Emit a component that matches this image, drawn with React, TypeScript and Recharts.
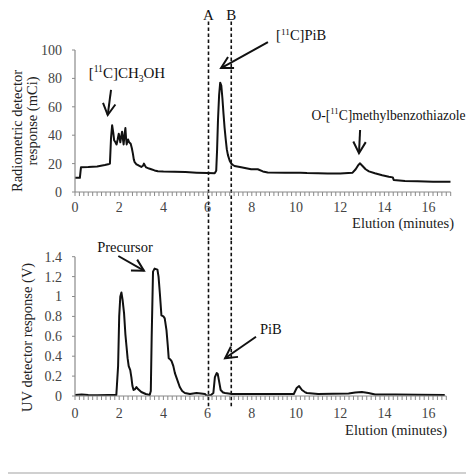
import React from 'react';
import { LineChart, Line, XAxis, YAxis, ReferenceLine, ReferenceDot } from 'recharts';

const FONT = "'Liberation Serif', 'Times New Roman', Times, serif";

// Radiometric detector trace (minutes, mCi)
const radioTime = [
  0, 0.22, 0.27, 0.6, 1.0, 1.35, 1.5, 1.58, 1.63, 1.68, 1.73, 1.77, 1.83, 1.88, 1.93, 1.98,
  2.02, 2.05, 2.09, 2.13, 2.17, 2.2, 2.24, 2.28, 2.31, 2.34, 2.37, 2.4, 2.45, 2.52, 2.57, 2.62,
  2.66, 2.7, 2.78, 2.85, 3.0, 3.08, 3.12, 3.17, 3.22, 3.35, 3.45, 3.6, 3.75, 4.0, 4.5, 5.0,
  5.5, 6.0, 6.32, 6.39, 6.43, 6.47, 6.52, 6.57, 6.62, 6.67, 6.72, 6.77, 6.82, 6.87, 6.92, 7.0,
  7.07, 7.15, 7.22, 7.52, 7.8, 7.97, 8.27, 8.5, 8.72, 9.5, 10.2, 10.5, 11.0, 11.43, 12.0, 12.55,
  12.7, 12.8, 12.89, 13.0, 13.15, 13.3, 13.57, 13.9, 14.2, 14.38, 14.42, 14.93, 15.5, 16.2, 17.0,
];
const radioSignal = [
  10, 10, 17.4, 17.6, 18, 19, 19.5, 20, 38, 47, 42, 36.5, 35, 33.5, 37, 41,
  38, 35, 39, 42.5, 37, 33.5, 40, 45, 38, 33.5, 36, 37, 35, 34, 31, 27,
  23, 21, 19.5, 19, 17.7, 18.5, 20, 18.5, 17.3, 16.5, 16, 15.2, 14.6, 14.4, 14.2, 14,
  13.6, 13.3, 13.2, 15, 30, 50.7, 68, 77, 75, 66, 55, 45, 37, 30, 26, 22,
  20, 19, 18.3, 17.4, 16.5, 16, 16, 14.5, 13.8, 13.6, 13.5, 13.3, 13.2, 13, 13, 13.5,
  16, 18.5, 20.2, 18.5, 16, 14.5, 13.2, 11.8, 10.8, 10.3, 8.5, 7.7, 7.5, 7.3, 7.2,
];

// UV detector trace (minutes, V)
const uvTime = [
  0, 0.3, 0.6, 1.0, 1.5, 1.87, 1.95, 2.0, 2.05, 2.1, 2.15, 2.22, 2.28, 2.33, 2.38, 2.43,
  2.5, 2.55, 2.6, 2.65, 2.72, 2.78, 2.85, 3.0, 3.2, 3.38, 3.43, 3.47, 3.53, 3.6, 3.73, 3.78,
  3.84, 3.91, 4.0, 4.06, 4.14, 4.2, 4.24, 4.3, 4.37, 4.45, 4.52, 4.6, 4.74, 4.85, 4.97, 5.2,
  5.5, 5.7, 5.88, 5.95, 6.15, 6.26, 6.33, 6.41, 6.46, 6.51, 6.59, 6.7, 6.79, 7.1, 8.0, 9.0,
  9.9, 10.03, 10.14, 10.27, 10.4, 10.49, 11.0, 12.38, 12.68, 12.98, 13.28, 13.58, 14.5, 15.5, 16.73,
];
const uvSignal = [
  0.01, 0.015, 0.01, 0.008, 0.01, 0.01, 0.3, 0.8, 1.0, 1.04, 0.97, 0.83, 0.62, 0.5, 0.38, 0.3,
  0.26, 0.19, 0.1, 0.06, 0.07, 0.09, 0.07, 0.04, 0.02, 0.01, 0.05, 0.6, 1.25, 1.28, 1.27, 1.2,
  1.03, 0.81, 0.8, 0.78, 0.66, 0.5, 0.38, 0.37, 0.35, 0.3, 0.23, 0.18, 0.09, 0.05, 0.03, 0.02,
  0.03, 0.025, 0.02, 0.003, 0.01, 0.03, 0.19, 0.23, 0.22, 0.16, 0.06, 0.035, 0.03, 0.02, 0.02, 0.02,
  0.02, 0.08, 0.1, 0.06, 0.04, 0.03, 0.02, 0.025, 0.035, 0.04, 0.03, 0.015, 0.015, 0.012, 0.01,
];

const radioYTicks = [0, 20, 40, 60, 80, 100];
const uvYTicks = [0, 0.2, 0.4, 0.6, 0.8, 1, 1.2, 1.4];
const radioXMax = 17;
const uvXMax = 16.8;
const minorStep = 0.2;
const markerA = 6.04;
const markerB = 7.07;

const radioData = radioTime.map((t, i) => ({ t, v: radioSignal[i] }));
const uvData = uvTime.map((t, i) => ({ t, v: uvSignal[i] }));

const makeTicks = (max: number) =>
  Array.from({ length: Math.round(max / minorStep) + 1 }, (_, i) => Math.round(i * minorStep * 10) / 10);

const fmtX = (v: number) =>
  Math.abs(v - Math.round(v)) < 1e-6 && Math.round(v) % 2 === 0 ? String(Math.round(v)) : '';

const AXIS = '#8a8a8a';
const TICK_TEXT = { fontFamily: FONT, fontSize: 14, fill: '#444' };
const INK = '#111';

type Part = [string, string];

const richLabel = (parts: Part[], anchor: 'start' | 'middle' | 'end', fontSize: number) => (p: any) => {
  let shift = 0;
  const spans = parts.map(([s, kind], i) => {
    const target = kind === 'sup' ? -fontSize * 0.38 : kind === 'sub' ? fontSize * 0.25 : 0;
    const dy = target - shift;
    shift = target;
    return (
      <tspan key={i} dy={dy} fontSize={kind ? fontSize * 0.64 : fontSize}>
        {s}
      </tspan>
    );
  });
  return (
    <text x={p.cx} y={p.cy} textAnchor={anchor} fontFamily={FONT} fill={INK} fontSize={fontSize}>
      {spans}
    </text>
  );
};

const arrowShape = (p: any) => {
  const { x1, y1, x2, y2 } = p;
  const ang = Math.atan2(y1 - y2, x1 - x2);
  const L = 13;
  const h = 0.5;
  const a1x = x2 + L * Math.cos(ang + h);
  const a1y = y2 + L * Math.sin(ang + h);
  const a2x = x2 + L * Math.cos(ang - h);
  const a2y = y2 + L * Math.sin(ang - h);
  return (
    <g>
      <line x1={x1} y1={y1} x2={x2} y2={y2} stroke={INK} strokeWidth={2} />
      <polyline
        points={`${a1x},${a1y} ${x2},${y2} ${a2x},${a2y}`}
        fill="none"
        stroke={INK}
        strokeWidth={2}
        strokeLinejoin="miter"
      />
    </g>
  );
};

const letterShape = (letter: string) => (p: any) => (
  <text x={p.cx} y={p.cy - 2} textAnchor="middle" fontFamily={FONT} fontSize={15} fill={INK}>
    {letter}
  </text>
);

const CH3OH: Part[] = [['[', ''], ['11', 'sup'], ['C]CH', ''], ['3', 'sub'], ['OH', '']];
const PIB11: Part[] = [['[', ''], ['11', 'sup'], ['C]PiB', '']];
const METHYL: Part[] = [['O-[', ''], ['11', 'sup'], ['C]methylbenzothiazole', '']];
const PRECURSOR: Part[] = [['Precursor', '']];
const PIB: Part[] = [['PiB', '']];

const dashed = { stroke: INK, strokeWidth: 1.6, strokeDasharray: '3.5 2.5' };

const elutionLabel = (dx: number, dy: number) => (props: any) => {
  const vb = props.viewBox || { x: 67, y: 184, width: 375, height: 48 };
  return (
    <text x={vb.x + vb.width + dx} y={vb.y + dy} textAnchor="end" fontFamily={FONT} fontSize={14.5} fill="#222">
      Elution (minutes)
    </text>
  );
};

const radioYLabel = (props: any) => {
  const vb = props.viewBox || { x: 0, y: 42, width: 67, height: 142 };
  const cy = vb.y + vb.height / 2;
  const x1 = vb.x + 9;
  const x2 = vb.x + 24;
  return (
    <g fontFamily={FONT} fontSize={14.5} fill="#222">
      <text x={x1} y={cy + 10} textAnchor="middle" dominantBaseline="central" transform={`rotate(-90 ${x1} ${cy + 10})`}>
        Radiometric detector
      </text>
      <text x={x2} y={cy} textAnchor="middle" dominantBaseline="central" transform={`rotate(-90 ${x2} ${cy})`}>
        response (mCi)
      </text>
    </g>
  );
};

const uvYLabel = (props: any) => {
  const vb = props.viewBox || { x: 0, y: 16.7, width: 67, height: 139.3 };
  const cy = vb.y + vb.height / 2 + 11;
  const x = vb.x + 19;
  return (
    <text
      x={x}
      y={cy}
      textAnchor="middle"
      dominantBaseline="central"
      transform={`rotate(-90 ${x} ${cy})`}
      fontFamily={FONT}
      fontSize={14.5}
      fill="#222"
    >
      UV detector response (V)
    </text>
  );
};

export default function App() {
  return (
    <div style={{ position: 'relative', width: 466, height: 466 }}>
      <LineChart width={466} height={232} data={radioData} margin={{ top: 42, right: 23.3, bottom: 0, left: 0 }}>
        <XAxis
          type="number"
          dataKey="t"
          domain={[0, radioXMax]}
          allowDataOverflow
          ticks={makeTicks(radioXMax)}
          interval={0}
          tickFormatter={fmtX}
          height={48}
          tickSize={4}
          tickMargin={6}
          axisLine={{ stroke: AXIS, strokeWidth: 1.2 }}
          tickLine={{ stroke: AXIS }}
          tick={TICK_TEXT}
          label={{ content: elutionLabel(3.3, 36) }}
        />
        <YAxis
          type="number"
          domain={[0, 100]}
          allowDataOverflow
          ticks={radioYTicks}
          interval={0}
          width={67}
          tickSize={3}
          tickMargin={10}
          axisLine={{ stroke: AXIS, strokeWidth: 1.2 }}
          tickLine={{ stroke: AXIS }}
          tick={TICK_TEXT}
          label={{ content: radioYLabel }}
        />
        <Line
          type="linear"
          dataKey="v"
          stroke={INK}
          strokeWidth={2}
          dot={false}
          activeDot={false}
          isAnimationActive={false}
          strokeLinejoin="round"
        />
        <ReferenceLine segment={[{ x: markerA, y: 120 }, { x: markerA, y: -34 }]} ifOverflow="visible" {...dashed} />
        <ReferenceLine segment={[{ x: markerB, y: 120 }, { x: markerB, y: -34 }]} ifOverflow="visible" {...dashed} />
        <ReferenceDot x={markerA} y={119.7} r={0} ifOverflow="visible" shape={letterShape('A')} />
        <ReferenceDot x={markerB} y={119.7} r={0} ifOverflow="visible" shape={letterShape('B')} />
        <ReferenceLine segment={[{ x: 1.63, y: 72 }, { x: 1.48, y: 54.2 }]} ifOverflow="visible" shape={arrowShape} />
        <ReferenceLine segment={[{ x: 8.73, y: 105.6 }, { x: 6.61, y: 87.3 }]} ifOverflow="visible" shape={arrowShape} />
        <ReferenceLine segment={[{ x: 12.9, y: 43.7 }, { x: 12.85, y: 27.3 }]} ifOverflow="visible" shape={arrowShape} />
        <ReferenceDot x={2.35} y={80.3} r={0} ifOverflow="visible" shape={richLabel(CH3OH, 'middle', 15)} />
        <ReferenceDot x={9.1} y={107} r={0} ifOverflow="visible" shape={richLabel(PIB11, 'start', 14.5)} />
        <ReferenceDot x={10.7} y={51} r={0} ifOverflow="visible" shape={richLabel(METHYL, 'start', 13.6)} />
      </LineChart>
      <LineChart width={466} height={226} data={uvData} margin={{ top: 16.7, right: 27.7, bottom: 0, left: 0 }}>
        <XAxis
          type="number"
          dataKey="t"
          domain={[0, uvXMax]}
          allowDataOverflow
          ticks={makeTicks(uvXMax)}
          interval={0}
          tickFormatter={fmtX}
          height={70}
          tickSize={4}
          tickMargin={8}
          axisLine={{ stroke: AXIS, strokeWidth: 1.2 }}
          tickLine={{ stroke: AXIS }}
          tick={TICK_TEXT}
          label={{ content: elutionLabel(0.7, 39) }}
        />
        <YAxis
          type="number"
          domain={[0, 1.4]}
          allowDataOverflow
          ticks={uvYTicks}
          interval={0}
          width={67}
          tickSize={3}
          tickMargin={10}
          axisLine={{ stroke: AXIS, strokeWidth: 1.2 }}
          tickLine={{ stroke: AXIS }}
          tick={TICK_TEXT}
          label={{ content: uvYLabel }}
        />
        <Line
          type="linear"
          dataKey="v"
          stroke={INK}
          strokeWidth={2}
          dot={false}
          activeDot={false}
          isAnimationActive={false}
          strokeLinejoin="round"
        />
        <ReferenceLine segment={[{ x: markerA, y: 1.62 }, { x: markerA, y: -0.12 }]} ifOverflow="visible" {...dashed} />
        <ReferenceLine segment={[{ x: markerB, y: 1.62 }, { x: markerB, y: -0.12 }]} ifOverflow="visible" {...dashed} />
        <ReferenceLine segment={[{ x: 1.96, y: 1.407 }, { x: 3.12, y: 1.259 }]} ifOverflow="visible" shape={arrowShape} />
        <ReferenceLine segment={[{ x: 8.19, y: 0.596 }, { x: 6.79, y: 0.379 }]} ifOverflow="visible" shape={arrowShape} />
        <ReferenceDot x={2.26} y={1.447} r={0} ifOverflow="visible" shape={richLabel(PRECURSOR, 'middle', 14.5)} />
        <ReferenceDot x={8.37} y={0.623} r={0} ifOverflow="visible" shape={richLabel(PIB, 'start', 14.5)} />
      </LineChart>
      <div style={{ position: 'absolute', left: -8, top: 463.7, width: 474, height: 3, background: '#d0d0d0' }} />
    </div>
  );
}
